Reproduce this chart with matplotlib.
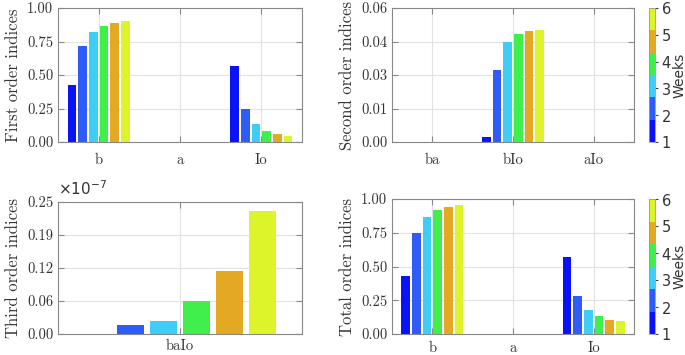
import numpy as np
import matplotlib
matplotlib.use("Agg")
import matplotlib.pyplot as plt
from matplotlib.colors import ListedColormap, Normalize
from matplotlib.cm import ScalarMappable

plt.rcParams['font.family'] = 'cmr10'
plt.rcParams['axes.formatter.use_mathtext'] = True

weeks = [1, 2, 3, 4, 5, 6]
week_colors = ['#0a12f7', '#2f5cf6', '#3dcdf6', '#40ef4c', '#e3a923', '#def42a']

first_cats = ['b', 'a', 'Io']
first_vals = [[0.423, 0.716, 0.821, 0.868, 0.891, 0.903],
              [0, 0, 0, 0, 0, 0],
              [0.570, 0.246, 0.132, 0.080, 0.057, 0.042]]

second_cats = ['ba', 'bIo', 'aIo']
second_vals = [[0, 0, 0, 0, 0, 0],
               [0.0022, 0.0321, 0.0446, 0.0482, 0.0496, 0.0503],
               [0, 0, 0, 0, 0, 0]]

third_cats = ['baIo']
third_vals = [0.0, 0.0164, 0.0253, 0.0619, 0.1187, 0.233]  # x 1e-7

total_cats = ['b', 'a', 'Io']
total_vals = [[0.429, 0.750, 0.866, 0.916, 0.943, 0.958],
              [0, 0, 0, 0, 0, 0],
              [0.573, 0.280, 0.176, 0.130, 0.107, 0.094]]

W, H = 685, 355
fig = plt.figure(figsize=(W / 100, H / 100), dpi=100)

def box(x0, x1, y0, y1):
    return [x0 / W, 1 - y1 / H, (x1 - x0) / W, (y1 - y0) / H]

def style(ax, xpad=8):
    for s in ax.spines.values():
        s.set_color('#888888')
        s.set_linewidth(0.8)
    ax.tick_params(direction='in', length=4, color='#888888', top=True, right=True,
                   labelsize=10.5, labelcolor='#333333')
    ax.tick_params(axis='x', pad=xpad)
    ax.grid(True, color='#e2e2e2', lw=0.8)
    ax.set_axisbelow(True)

def grouped(ax, cats, vals, ymax, ylabel, xpad=8):
    step = 0.132
    for ci, row in enumerate(vals):
        for wi, v in enumerate(row):
            if v > 0:
                ax.bar(ci + 1 + (wi - 2.5) * step, v, width=0.106, color=week_colors[wi])
    ax.set_xlim(0.5, 3.5)
    ax.set_xticks([1, 2, 3])
    ax.set_xticklabels(cats)
    yt = np.linspace(0, ymax, 5)
    ax.set_ylim(0, ymax)
    ax.set_yticks(yt)
    ax.set_yticklabels(['%.2f' % t for t in yt])
    ax.set_ylabel(ylabel, fontsize=12, color='#333333')
    style(ax, xpad)

ax1 = fig.add_axes(box(58, 302, 8, 142))
grouped(ax1, first_cats, first_vals, 1.0, 'First order indices')

ax2 = fig.add_axes(box(392, 634, 8, 142))
grouped(ax2, second_cats, second_vals, 0.06, 'Second order indices')

ax4 = fig.add_axes(box(392, 634, 199, 334))
grouped(ax4, total_cats, total_vals, 1.0, 'Total order indices', xpad=5)

ax3 = fig.add_axes(box(58, 302, 202, 334))
for wi, v in enumerate(third_vals):
    if v > 0:
        ax3.bar(wi - 2.5, v, width=0.8, color=week_colors[wi])
ax3.set_xlim(-3.7, 3.7)
ax3.set_xticks([0])
ax3.set_xticklabels(third_cats)
yt = np.linspace(0, 0.25, 5)
ax3.set_ylim(0, 0.25)
ax3.set_yticks(yt)
ax3.set_yticklabels(['%.2f' % t for t in yt])
ax3.set_ylabel('Third order indices', fontsize=12, color='#333333')
style(ax3, xpad=4)
ax3.text(0.0, 1.03, r'$\times$10$^{\mathsf{-7}}$', transform=ax3.transAxes,
         fontsize=11, family='DejaVu Sans', color='#333333', va='bottom')

cmap = ListedColormap(week_colors)
sm = ScalarMappable(norm=Normalize(1, 6), cmap=cmap)
for (y0, y1) in [(8, 142), (199, 334)]:
    cax = fig.add_axes(box(649, 655, y0, y1))
    cb = fig.colorbar(sm, cax=cax, ticks=weeks)
    cb.outline.set_edgecolor('#999999')
    cb.outline.set_linewidth(0.6)
    cax.tick_params(labelsize=10.5, length=2, pad=2, color='#444444', labelcolor='#333333')
    for t in cax.get_yticklabels():
        t.set_family('DejaVu Sans')
    cb.set_label('Weeks', family='DejaVu Sans', fontsize=10, color='#333333')
    cax.yaxis.set_label_coords(3.85, 0.5)

fig.savefig('out.png', dpi=100)
